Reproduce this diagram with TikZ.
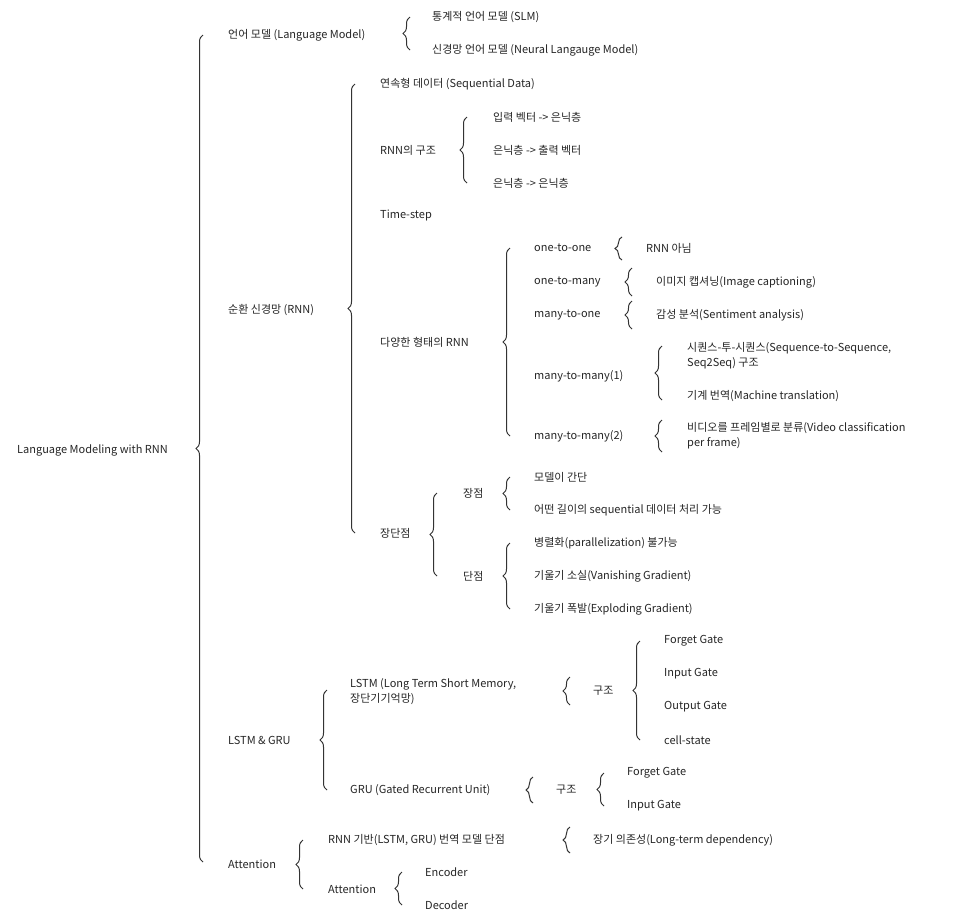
\documentclass[tikz,border=0pt]{standalone}
\usepackage{fontspec}
\setmainfont{Noto Sans CJK KR}
\usetikzlibrary{decorations.pathreplacing}
\newcommand\brc[3]{\draw[bracestyle] (#1,#3) -- (#1,#2);}
\begin{document}
\begin{tikzpicture}[x=1pt,y=-1pt,
  t/.style={anchor=west,inner sep=0pt,font=\fontsize{11}{15}\selectfont,text=black!85,align=left},
  bracestyle/.style={decorate,decoration={brace,amplitude=7pt},line width=1pt,black!80}]
\useasboundingbox[fill=white] (0,0) rectangle (967,922);
\node[t] (root) at (17,450) {Language Modeling with RNN};
\brc{203}{35}{862}
\node[t] (lm) at (228,35) {언어 모델 (Language Model)};
\brc{410}{17}{50}
\node[t] (slm) at (432,17) {통계적 언어 모델 (SLM)};
\node[t] (nlm) at (432,50) {신경망 언어 모델 (Neural Langauge Model)};
\node[t] (rnn) at (228,310) {순환 신경망 (RNN)};
\brc{355}{84}{533}
\node[t] (seq) at (380,84) {연속형 데이터 (Sequential Data)};
\node[t] (str) at (380,150) {RNN의 구조};
\brc{467}{117}{183}
\node[t] (s1) at (493,117) {입력 벡터 -> 은닉층};
\node[t] (s2) at (493,150) {은닉층 -> 출력 벡터};
\node[t] (s3) at (493,183) {은닉층 -> 은닉층};
\node[t] (ts) at (380,215) {Time-step};
\node[t] (var) at (380,342) {다양한 형태의 RNN};
\brc{510}{248}{436}
\node[t] (o11) at (534,248) {one-to-one};
\brc{622}{237}{260}
\node[t] (o11a) at (646,248) {RNN 아님};
\node[t] (o1m) at (534,282) {one-to-many};
\brc{632}{268}{296}
\node[t] (o1ma) at (656,282) {이미지 캡셔닝(Image captioning)};
\node[t] (m1) at (534,315) {many-to-one};
\brc{632}{301}{329}
\node[t] (m1a) at (656,315) {감성 분석(Sentiment analysis)};
\node[t] (mm1) at (534,376) {many-to-many(1)};
\brc{662}{346}{400}
\node[t] (mm1a) at (687,356) {시퀀스-투-시퀀스(Sequence-to-Sequence,\\Seq2Seq) 구조};
\node[t] (mm1b) at (687,396) {기계 번역(Machine translation)};
\node[t] (mm2) at (534,436) {many-to-many(2)};
\brc{662}{420}{452}
\node[t] (mm2a) at (687,436) {비디오를 프레임별로 분류(Video classification\\per frame)};
\node[t] (pc) at (380,533) {장단점};
\brc{437}{493}{576}
\node[t] (pro) at (463,493) {장점};
\brc{510}{477}{510}
\node[t] (p1) at (534,477) {모델이 간단};
\node[t] (p2) at (534,510) {어떤 길이의 sequential 데이터 처리 가능};
\node[t] (con) at (463,576) {단점};
\brc{510}{543}{609}
\node[t] (c1) at (534,543) {병렬화(parallelization) 불가능};
\node[t] (c2) at (534,576) {기울기 소실(Vanishing Gradient)};
\node[t] (c3) at (534,609) {기울기 폭발(Exploding Gradient)};
\node[t] (lg) at (228,740) {LSTM \& GRU};
\brc{327}{690}{790}
\node[t] (lstm) at (350,692) {LSTM (Long Term Short Memory,\\장단기기억망)};
\brc{570}{677}{705}
\node[t] (ls) at (593,691) {구조};
\brc{640}{641}{740}
\node[t] (g1) at (664,641) {Forget Gate};
\node[t] (g2) at (664,674) {Input Gate};
\node[t] (g3) at (664,707) {Output Gate};
\node[t] (g4) at (664,740) {cell-state};
\node[t] (gru) at (350,790) {GRU (Gated Recurrent Unit)};
\brc{533}{777}{803}
\node[t] (gs) at (556,790) {구조};
\brc{604}{773}{806}
\node[t] (h1) at (627,773) {Forget Gate};
\node[t] (h2) at (627,806) {Input Gate};
\node[t] (att) at (228,864) {Attention};
\brc{303}{840}{889}
\node[t] (ad) at (328,840) {RNN 기반(LSTM, GRU) 번역 모델 단점};
\brc{570}{827}{853}
\node[t] (ld) at (593,840) {장기 의존성(Long-term dependency)};
\node[t] (at2) at (328,889) {Attention};
\brc{402}{872}{905}
\node[t] (enc) at (425,872) {Encoder};
\node[t] (dec) at (425,905) {Decoder};
\end{tikzpicture}
\end{document}
